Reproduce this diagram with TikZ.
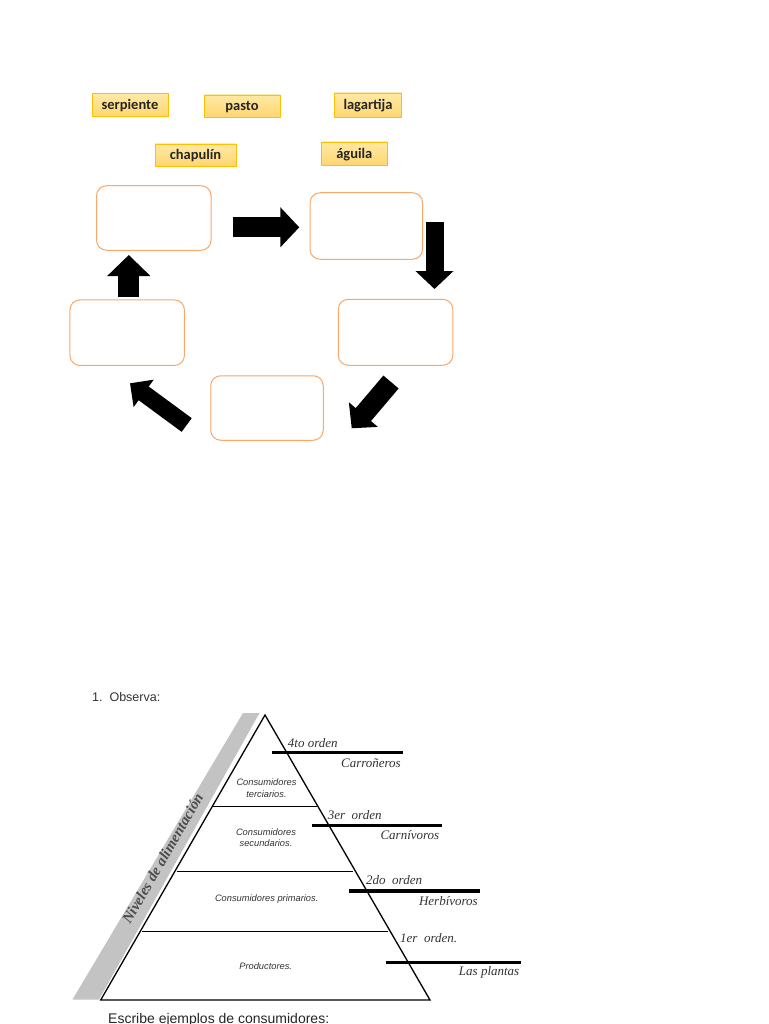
\documentclass[tikz,border=0pt]{standalone}
\usepackage{fontspec}
\setmainfont{Liberation Serif}
\newfontfamily\lblfont{Carlito}
\newfontfamily\sansfont{Liberation Sans}
\newfontfamily\serfont{Liberation Serif}
\usetikzlibrary{arrows.meta}
\definecolor{lblborder}{HTML}{FFC000}
\definecolor{lbltop}{HTML}{FFE9A6}
\definecolor{lblbot}{HTML}{FFD670}
\definecolor{boxorange}{HTML}{F8A86A}
\definecolor{bandgray}{HTML}{C3C3C3}
\definecolor{lvltext}{HTML}{333333}
\tikzset{
  lbl/.style={draw=lblborder, line width=0.8pt, top color=lbltop, bottom color=lblbot,
    inner sep=0pt, text height=11pt, text depth=1.5pt,
    font=\lblfont\bfseries\fontsize{14.5}{16}\selectfont, text=black!85},
  cbox/.style={draw=boxorange, line width=1pt, rounded corners=10pt, fill=white, inner sep=0pt},
  blk/.style={draw=black, line width=#1},
  lvl/.style={font=\sansfont\itshape\fontsize{9.3}{11.5}\selectfont, text=lvltext, align=center, inner sep=0pt},
  ord/.style={font=\serfont\itshape\fontsize{13}{14}\selectfont, text=black!80, inner sep=0pt},
  bar/.style={line width=#1, draw=black}
}
\begin{document}
\begin{tikzpicture}[x=1pt,y=-1pt]
\useasboundingbox[fill=white] (0,0) rectangle (768,1024);

% word labels
\node[lbl, minimum width=76pt, minimum height=23.5pt] (serp) at (130,105) {serpiente};
\node[lbl, minimum width=76pt, minimum height=22pt] (pasto) at (242,106) {pasto};
\node[lbl, minimum width=67.5pt, minimum height=24pt] (lag) at (368,105) {lagartija};
\node[lbl, minimum width=81pt, minimum height=22pt] (chap) at (195.5,155) {chapulín};
\node[lbl, minimum width=65.5pt, minimum height=23pt] (agu) at (354.3,153.5) {águila};

% empty boxes
\node[cbox, minimum width=114.5pt, minimum height=64.5pt] (b1) at (153.8,218) {};
\node[cbox, minimum width=112.5pt, minimum height=66.5pt] (b2) at (366.3,226) {};
\node[cbox, minimum width=114.5pt, minimum height=66pt] (b3) at (395.5,332.3) {};
\node[cbox, minimum width=112.5pt, minimum height=64.5pt] (b4) at (267,408) {};
\node[cbox, minimum width=114.5pt, minimum height=65.5pt] (b5) at (127.2,332.7) {};

% block arrows
\coordinate (a1s) at (232.7,227.3); \coordinate (a1e) at (299.3,227.3);
\coordinate (a2s) at (434.5,222.3); \coordinate (a2e) at (434.5,289);
\coordinate (a3s) at (391,382);     \coordinate (a3e) at (351.7,428.3);
\coordinate (a4s) at (186.7,425);   \coordinate (a4e) at (130,383.3);
\coordinate (a5s) at (128.8,297);   \coordinate (a5e) at (128.8,255);
\draw[blk=20pt, -{Triangle[length=19pt,width=39pt]}] (a1s) -- (a1e);
\draw[blk=18pt, -{Triangle[length=18pt,width=37pt]}] (a2s) -- (a2e);
\draw[blk=20pt, -{Triangle[length=18pt,width=37pt]}] (a3s) -- (a3e);
\draw[blk=17pt, -{Triangle[length=17pt,width=33pt]}] (a4s) -- (a4e);
\draw[blk=21pt, -{Triangle[length=21pt,width=42pt]}] (a5s) -- (a5e);

% heading
\node[anchor=west, font=\sansfont\fontsize{12.5}{14}\selectfont, text=black!80, inner sep=0pt] (obs) at (92,697) {1.\ \ Observa:};

% gray band
\fill[bandgray] (243,713) -- (259.5,713) -- (99,999.5) -- (72.5,999.5) -- cycle;
\node[rotate=60, font=\serfont\itshape\bfseries\fontsize{15}{16}\selectfont, text=black!70, inner sep=0pt] (niv) at (162.5,858.5) {Niveles de alimentación};

% pyramid
\draw[line width=1.3pt, line join=miter] (265,715) -- (430,1000) -- (100.7,1000) -- cycle;
\draw[line width=1pt] (213.3,806) -- (316.7,806);
\draw[line width=1pt] (176.7,871) -- (353.3,871);
\draw[line width=1pt] (141.7,931) -- (388.3,931);

% level texts
\node[lvl] (terc) at (266.5,788) {Consumidores\\terciarios.};
\node[lvl] (secu) at (266,837.5) {Consumidores\\secundarios.};
\node[lvl] (prim) at (266.7,899.5) {Consumidores primarios.};
\node[lvl] (prod) at (265.7,966) {Productores.};

% order bars and labels
\draw[bar=3pt] (272,752.7) -- (403.3,752.7);
\draw[bar=3pt] (311.7,825) -- (441.7,825);
\draw[bar=4pt] (349.3,890.7) -- (480,890.7);
\draw[bar=3.5pt] (385.7,962.3) -- (520.7,962.3);
\node[ord, anchor=west] (o4) at (287.7,743) {4to orden};
\node[ord, anchor=east] (c4) at (401,763.5) {Carroñeros};
\node[ord, anchor=west] (o3) at (327.7,815) {3er\ \ orden};
\node[ord, anchor=east] (c3) at (439.5,835) {Carnívoros};
\node[ord, anchor=west] (o2) at (366,880.3) {2do\ \ orden};
\node[ord, anchor=east] (c2) at (478,900.7) {Herbívoros};
\node[ord, anchor=west] (o1) at (400,938.3) {1er\ \ orden.};
\node[ord, anchor=east] (c1) at (519.5,972.3) {Las plantas};

% bottom text (cut by page edge)
\node[anchor=base west, font=\sansfont\fontsize{14}{16}\selectfont, text=black!85, inner sep=0pt] (esc) at (108,1023) {Escribe ejemplos de consumidores:};
\end{tikzpicture}
\end{document}
